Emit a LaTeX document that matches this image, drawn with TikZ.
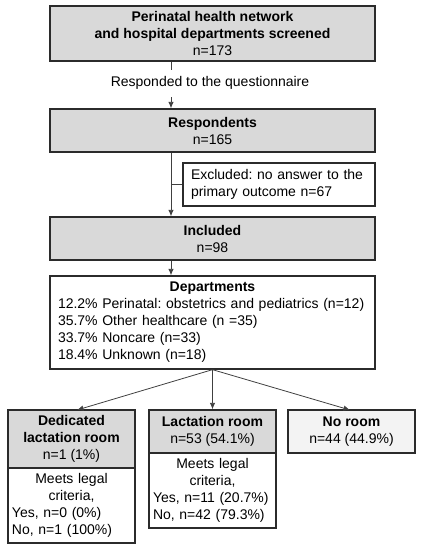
\documentclass[tikz,border=0pt]{standalone}
\usepackage{fontspec}
\setmainfont{Liberation Sans}
\usetikzlibrary{arrows.meta}
\definecolor{boxgray}{HTML}{D9D9D9}
\definecolor{lightbox}{HTML}{F3F3F3}
\definecolor{bordc}{HTML}{2B2B2B}
\definecolor{linec}{HTML}{404040}
\frenchspacing
\begin{document}
\begin{tikzpicture}[x=1pt,y=-1pt,
  font=\fontsize{14}{17}\selectfont,
  box/.style={draw=bordc, line width=1.3pt, inner sep=0pt, align=center},
  widebox/.style={box, minimum width=325pt},
  smallbox/.style={box, minimum width=127pt},
  conn/.style={draw=linec, line width=0.8pt},
  arr/.style={conn, -{Latex[length=6.5pt,width=5.5pt]}}]
\useasboundingbox (0,0) rectangle (423,550);

\node[widebox, fill=boxgray, minimum height=55pt] (screen) at (212.5,33.5)
  {\textbf{Perinatal health network}\\\textbf{and hospital departments screened}\\n=173};
\node[inner sep=0pt] (resp) at (210,83) {Responded to the questionnaire};
\coordinate (l1) at (171,70);
\coordinate (l2) at (171,97);
\node[widebox, fill=boxgray, minimum height=43pt] (respd) at (212.5,130.5)
  {\textbf{Respondents}\\n=165};
\node[box, fill=white, minimum width=192pt, minimum height=43pt, text width=176pt, align=left] (excl) at (279,184.5)
  {Excluded: no answer to the\\primary outcome n=67};
\node[widebox, fill=boxgray, minimum height=43pt] (incl) at (212.5,238.5)
  {\textbf{Included}\\n=98};
\node[widebox, fill=white, minimum height=93pt, text width=309pt, align=left] (dept) at (212.5,322.5)
  {\makebox[\linewidth]{\textbf{Departments}}\\
   12.2\% Perinatal: obstetrics and pediatrics (n=12)\\
   35.7\% Other healthcare (n =35)\\
   33.7\% Noncare (n=33)\\
   18.4\% Unknown (n=18)};

\node[smallbox, fill=boxgray, minimum height=58pt] (ltop) at (71.5,439)
  {\textbf{Dedicated}\\\textbf{lactation room}\\n=1 (1\%)};
\node[smallbox, fill=white, minimum height=75pt, text width=119pt, align=left] (lbot) at (71.5,505.5)
  {\makebox[\linewidth]{Meets legal}\\\makebox[\linewidth]{criteria,}\\Yes, n=0 (0\%)\\No, n=1 (100\%)};
\node[smallbox, fill=boxgray, minimum height=43pt] (mtop) at (212.5,431.5)
  {\textbf{Lactation room}\\n=53 (54.1\%)};
\node[smallbox, fill=white, minimum height=75pt, text width=119pt, align=left] (mbot) at (212.5,490.5)
  {\makebox[\linewidth]{Meets legal}\\\makebox[\linewidth]{criteria,}\\Yes, n=11 (20.7\%)\\No, n=42 (79.3\%)};
\node[smallbox, fill=lightbox, minimum height=43pt] (rtop) at (351.5,431.5)
  {\textbf{No room}\\n=44 (44.9\%)};

\coordinate (a1) at (77,410);
\coordinate (a3) at (350,410);

\draw[conn] (screen.south -| l1) -- (l1);
\draw[arr] (l2) -- (respd.north -| l2);
\draw[arr] (respd.south -| l1) -- (incl.north -| l1);
\draw[conn] (excl.west) -- (excl.west -| l1);
\draw[arr] (incl.south -| l1) -- (dept.north -| l1);
\draw[arr] (dept.south) -- (a1);
\draw[arr] (dept.south) -- (mtop.north);
\draw[arr] (dept.south) -- (a3);
\end{tikzpicture}
\end{document}
